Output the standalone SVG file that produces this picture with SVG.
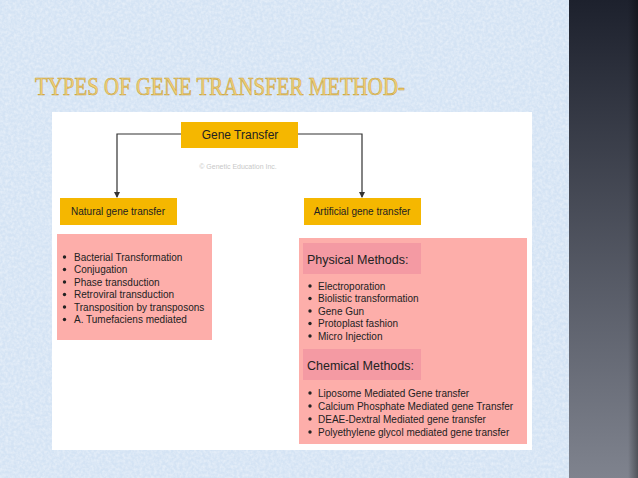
<svg xmlns="http://www.w3.org/2000/svg" width="638" height="478" viewBox="0 0 638 478">
<defs>
<style>
.t{font-family:"Liberation Sans",Arial,sans-serif;fill:#222;}
.box{fill:#f5b700;}
.pink{fill:#fdaeaa;}
.hdr{fill:#f49aa3;}
.li{font-size:10px;}
.dot{fill:#222;}
.h{font-size:12.5px;}
.conn{fill:none;stroke:#333;stroke-width:1.2;}
</style>
<linearGradient id="dark" x1="0" y1="0" x2="0" y2="1">
<stop offset="0" stop-color="#1d212d"/>
<stop offset="1" stop-color="#7f838e"/>
</linearGradient>
<linearGradient id="edge" x1="0" y1="0" x2="1" y2="0">
<stop offset="0" stop-color="#000" stop-opacity="0"/>
<stop offset="1" stop-color="#000" stop-opacity="0.35"/>
</linearGradient>
<filter id="tex" x="0" y="0" width="100%" height="100%">
<feTurbulence type="fractalNoise" baseFrequency="0.35" numOctaves="2" seed="3"/>
<feColorMatrix type="matrix" values="0 0 0 0 1  0 0 0 0 1  0 0 0 0 1  0 0 0 -1.6 1.1"/>
</filter>
<marker id="arr" viewBox="0 0 6 6" refX="5" refY="3" markerWidth="6" markerHeight="6" orient="auto" markerUnits="userSpaceOnUse">
<path d="M0,0 L6,3 L0,6 z" fill="#333"/>
</marker>
</defs>
<rect x="0" y="0" width="638" height="478" fill="#d4e3f4"/>
<rect x="0" y="0" width="569" height="478" filter="url(#tex)" opacity="0.45"/>
<rect x="569" y="0" width="69" height="478" fill="url(#dark)"/>
<rect x="628" y="0" width="10" height="478" fill="url(#edge)"/>
<text x="35" y="95" font-family="Liberation Serif,serif" font-size="25" fill="#f2d27a" stroke="#c9a23c" stroke-width="0.6" textLength="370" lengthAdjust="spacingAndGlyphs">TYPES OF GENE TRANSFER METHOD-</text>
<rect x="52" y="112" width="480" height="338" fill="#ffffff"/>
<text x="238" y="169" font-family="Liberation Sans,Arial,sans-serif" font-size="7" fill="#c8c8c8" text-anchor="middle">© Genetic Education Inc.</text>
<g id="connectors">
<path class="conn" d="M181,134 H117 V197" marker-end="url(#arr)"/>
<path class="conn" d="M298,134 H362 V197" marker-end="url(#arr)"/>
</g>
<g id="gene-transfer">
<rect class="box" x="181" y="122" width="117" height="26"/>
<text class="t" x="240" y="139" font-size="12" text-anchor="middle">Gene Transfer</text>
</g>
<g id="natural">
<rect class="box" x="60" y="198" width="117" height="27"/>
<text class="t" x="118" y="215" font-size="10" text-anchor="middle">Natural gene transfer</text>
</g>
<g id="artificial">
<rect class="box" x="304" y="198" width="117" height="27"/>
<text class="t" x="362" y="215" font-size="10" text-anchor="middle">Artificial gene transfer</text>
</g>
<g id="natural-list">
<rect class="pink" x="57" y="234" width="155" height="106"/>
<g class="dot">
<circle cx="64.5" cy="257" r="1.7"/><circle cx="64.5" cy="269.5" r="1.7"/><circle cx="64.5" cy="282" r="1.7"/>
<circle cx="64.5" cy="294.5" r="1.7"/><circle cx="64.5" cy="307" r="1.7"/><circle cx="64.5" cy="319.5" r="1.7"/>
</g>
<g class="t li">
<text x="74" y="260.5">Bacterial Transformation</text>
<text x="74" y="273">Conjugation</text>
<text x="74" y="285.5">Phase transduction</text>
<text x="74" y="298">Retroviral transduction</text>
<text x="74" y="310.5">Transposition by transposons</text>
<text x="74" y="323">A. Tumefaciens mediated</text>
</g>
</g>
<g id="artificial-list">
<rect class="pink" x="299" y="238" width="228" height="206"/>
<rect class="hdr" x="303" y="243" width="118" height="31"/>
<text class="t h" x="307" y="263.5">Physical Methods:</text>
<g class="dot">
<circle cx="310" cy="286" r="1.7"/><circle cx="310" cy="298.5" r="1.7"/><circle cx="310" cy="311" r="1.7"/>
<circle cx="310" cy="323.5" r="1.7"/><circle cx="310" cy="336" r="1.7"/>
<circle cx="310" cy="393" r="1.7"/><circle cx="310" cy="406" r="1.7"/><circle cx="310" cy="419" r="1.7"/><circle cx="310" cy="432" r="1.7"/>
</g>
<g class="t li">
<text x="318" y="289.5">Electroporation</text>
<text x="318" y="302">Biolistic transformation</text>
<text x="318" y="314.5">Gene Gun</text>
<text x="318" y="327">Protoplast fashion</text>
<text x="318" y="339.5">Micro Injection</text>
</g>
<rect class="hdr" x="303" y="349" width="118" height="31"/>
<text class="t h" x="307" y="369.5">Chemical Methods:</text>
<g class="t li">
<text x="318" y="396.5">Liposome Mediated Gene transfer</text>
<text x="318" y="409.5">Calcium Phosphate Mediated gene Transfer</text>
<text x="318" y="422.5">DEAE-Dextral Mediated gene transfer</text>
<text x="318" y="435.5">Polyethylene glycol mediated gene transfer</text>
</g>
</g>
</svg>
